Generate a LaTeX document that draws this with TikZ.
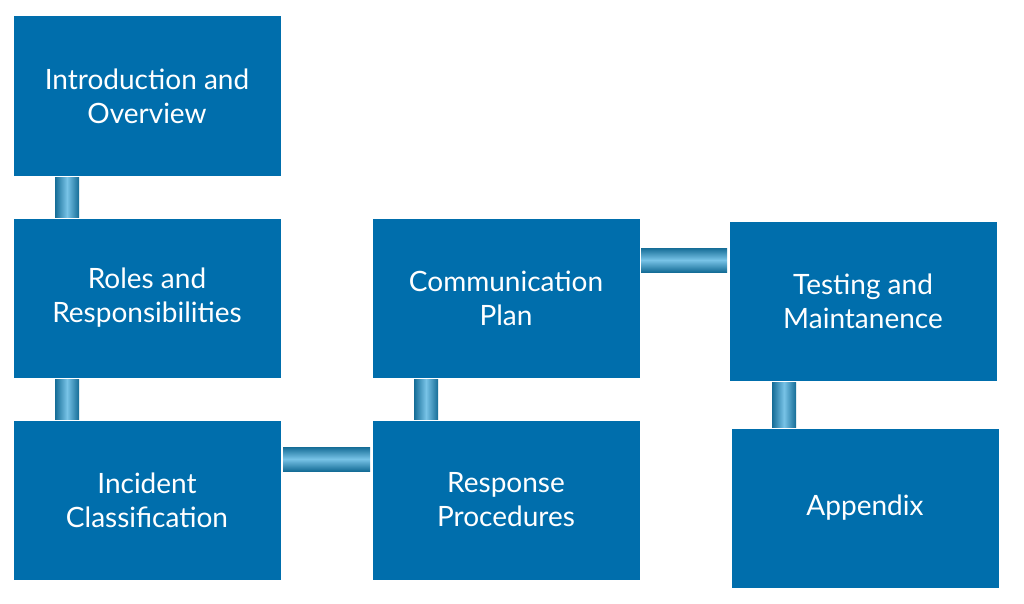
\documentclass[tikz,border=0pt]{standalone}
\usepackage{fontspec}
\setmainfont{Lato}
\begin{document}
\begin{tikzpicture}[x=1pt,y=-1pt,
  box/.style={draw=white,line width=1pt,fill=boxblue,text=white,minimum width=268pt,minimum height=160pt,align=center,font=\fontsize{28}{34}\selectfont,inner sep=0pt},
  vcon/.style={left color=conblue!70!black,right color=conblue!70!black,middle color=conblue!60!white,draw=none},
  hcon/.style={top color=conblue!70!black,bottom color=conblue!70!black,middle color=conblue!60!white,draw=none}]
\definecolor{boxblue}{HTML}{006EAC}
\definecolor{conblue}{HTML}{1E9BD7}
\useasboundingbox (0,0) rectangle (1024,604);
\fill[white] (0,0) rectangle (1024,604);
\node[box] (intro) at (147,96) {Introduction and\\Overview};
\node[box] (roles) at (147,298) {Roles and\\Responsibilities};
\node[box] (inc) at (147,500) {Incident\\Classification};
\node[box] (resp) at (506,500) {Response\\Procedures};
\node[box] (comm) at (506,298) {Communication\\Plan};
\node[box] (test) at (863,301) {Testing and\\Maintanence};
\node[box] (app) at (865,508) {Appendix};
\path[vcon] (55,177) rectangle (79,217);
\path[vcon] (55,379) rectangle (79,419);
\path[hcon] (283,447) rectangle (370,471);
\path[vcon] (414,379) rectangle (438,419);
\path[hcon] (641,248) rectangle (727,272);
\path[vcon] (772,382) rectangle (796,427);
\end{tikzpicture}
\end{document}
